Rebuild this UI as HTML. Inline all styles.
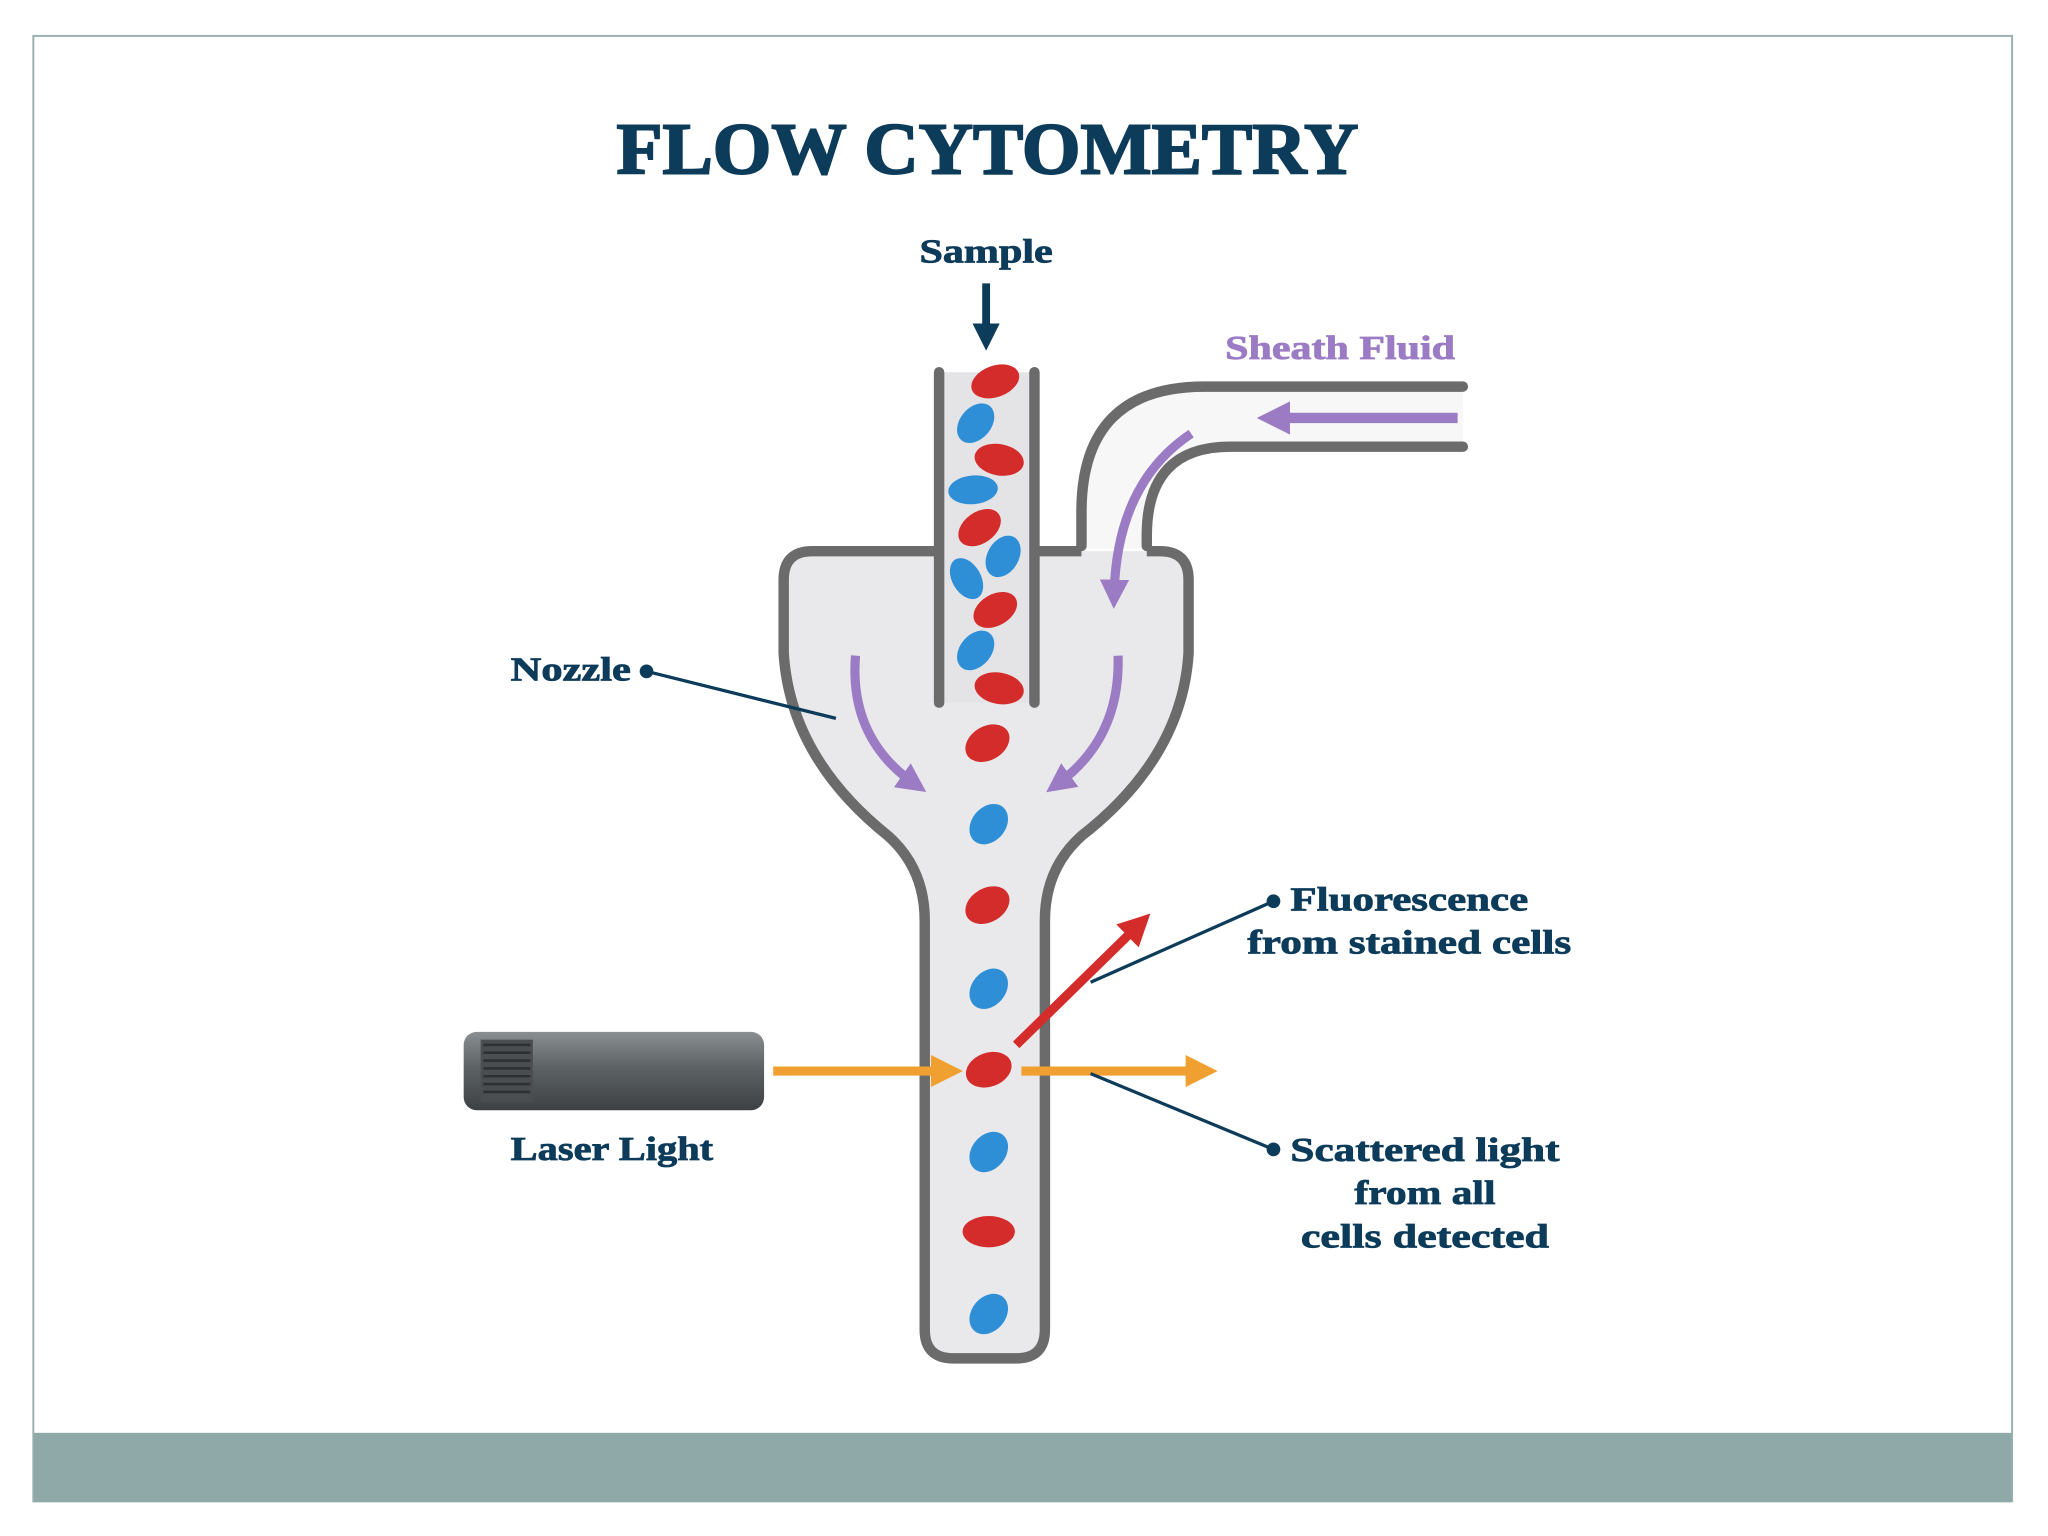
<!DOCTYPE html>
<html><head><meta charset="utf-8"><style>
html,body{margin:0;padding:0;background:#fff;}
svg{display:block;}
text{font-family:"Liberation Serif",serif;font-weight:bold;fill:#0d3b5a;}
</style></head><body>
<svg width="2048" height="1536" viewBox="0 0 1568 1176" xmlns="http://www.w3.org/2000/svg">
<defs>
<linearGradient id="las" x1="0" y1="0" x2="0" y2="1">
<stop offset="0" stop-color="#8a8f92"/><stop offset="0.45" stop-color="#5d6265"/><stop offset="1" stop-color="#3d4143"/>
</linearGradient>
<marker id="pa" viewBox="0 0 10 10" refX="5" refY="5" markerWidth="3.2" markerHeight="3.2" orient="auto"><path d="M0,0 L10,5 L0,10 z" fill="#9b7bc4"/></marker>
<marker id="oa" viewBox="0 0 10 10" refX="5" refY="5" markerWidth="3.5" markerHeight="3.5" orient="auto"><path d="M0,0 L10,5 L0,10 z" fill="#f0a030"/></marker>
<marker id="ra" viewBox="0 0 10 10" refX="5" refY="5" markerWidth="3.5" markerHeight="3.5" orient="auto"><path d="M0,0 L10,5 L0,10 z" fill="#d42b2b"/></marker>
<marker id="da" viewBox="0 0 10 10" refX="5" refY="5" markerWidth="3.5" markerHeight="3.5" orient="auto"><path d="M0,0 L10,5 L0,10 z" fill="#0d3b5a"/></marker>
</defs>
<rect x="0" y="0" width="1568" height="1176" fill="#fff"/>
<rect x="25.5" y="27.5" width="1515" height="1122" fill="#fff" stroke="#9bb0b0" stroke-width="1.5"/>
<rect x="26" y="1097" width="1514" height="53" fill="#8fa9a8"/>

<text x="472" y="133" font-size="56" textLength="568" lengthAdjust="spacingAndGlyphs" stroke="#0d3b5a" stroke-width="1.5">FLOW CYTOMETRY</text>

<path d="M828 420 L828 392 Q828 296 922 296 L1120 296 L1120 342 L942 342 Q878 342 878 410 L878 420 Z" fill="#f7f7f8"/>
<path d="M828 418 L828 392 Q828 296 922 296 L1120 296" fill="none" stroke="#6b6b6b" stroke-width="8" stroke-linecap="round"/>
<path d="M878 418 L878 410 Q878 342 942 342 L1120 342" fill="none" stroke="#6b6b6b" stroke-width="8" stroke-linecap="round"/>

<path d="M720 422 L622 422 Q600 422 600 444 L600 500 Q605 580 680 640 Q708 665 708 705 L708 1018 Q708 1040 730 1040 L778 1040 Q800 1040 800 1018 L800 705 Q800 665 828 640 Q905 580 910 500 L910 444 Q910 422 888 422 L878 422 M828 422 L792 422" fill="#e9e9eb" stroke="#6b6b6b" stroke-width="8" stroke-linejoin="round"/>
<rect x="719" y="285" width="73" height="253" fill="#e4e4e6"/>
<line x1="719" y1="285" x2="719" y2="538" stroke="#6b6b6b" stroke-width="8" stroke-linecap="round"/>
<line x1="792" y1="285" x2="792" y2="538" stroke="#6b6b6b" stroke-width="8" stroke-linecap="round"/>

<g fill="#d42b2b">
<ellipse cx="762" cy="292" rx="19" ry="12" transform="rotate(-20 762 292)"/>
<ellipse cx="765" cy="352" rx="19" ry="12" transform="rotate(10 765 352)"/>
<ellipse cx="750" cy="404" rx="18" ry="12" transform="rotate(-35 750 404)"/>
<ellipse cx="762" cy="467" rx="18" ry="12" transform="rotate(-30 762 467)"/>
<ellipse cx="765" cy="527" rx="19" ry="12" transform="rotate(10 765 527)"/>
<ellipse cx="756" cy="569" rx="18" ry="13" transform="rotate(-30 756 569)"/>
<ellipse cx="756" cy="693" rx="18" ry="13" transform="rotate(-30 756 693)"/>
<ellipse cx="757" cy="819" rx="18" ry="13" transform="rotate(-20 757 819)"/>
<ellipse cx="757" cy="943" rx="20" ry="12"/>
</g>
<g fill="#2f8fd6">
<ellipse cx="747" cy="324" rx="17" ry="12" transform="rotate(-50 747 324)"/>
<ellipse cx="745" cy="375" rx="19" ry="11" transform="rotate(-5 745 375)"/>
<ellipse cx="768" cy="426" rx="17" ry="12" transform="rotate(-60 768 426)"/>
<ellipse cx="740" cy="443" rx="17" ry="11" transform="rotate(60 740 443)"/>
<ellipse cx="747" cy="498" rx="17" ry="12" transform="rotate(-50 747 498)"/>
<ellipse cx="757" cy="631" rx="17" ry="13" transform="rotate(-50 757 631)"/>
<ellipse cx="757" cy="757" rx="17" ry="13" transform="rotate(-50 757 757)"/>
<ellipse cx="757" cy="882" rx="17" ry="13" transform="rotate(-50 757 882)"/>
<ellipse cx="757" cy="1006" rx="17" ry="13" transform="rotate(-50 757 1006)"/>
</g>

<path d="M1116 320 L975 320" stroke="#9b7bc4" stroke-width="8" fill="none" marker-end="url(#pa)"/>
<path d="M912 332 Q855 370 853 455" stroke="#9b7bc4" stroke-width="7" fill="none" marker-end="url(#pa)"/>
<path d="M655 502 Q650 565 700 600" stroke="#9b7bc4" stroke-width="7" fill="none" marker-end="url(#pa)"/>
<path d="M856 502 Q858 565 810 600" stroke="#9b7bc4" stroke-width="7" fill="none" marker-end="url(#pa)"/>

<path d="M755 217 L755 258" stroke="#0d3b5a" stroke-width="6" fill="none" marker-end="url(#da)"/>

<rect x="355" y="790" width="230" height="60" rx="10" fill="url(#las)"/>
<rect x="368" y="796" width="40" height="48" fill="#4a4e50"/>
<g stroke="#2e3133" stroke-width="2"><line x1="370" y1="800" x2="406" y2="800"/><line x1="370" y1="806" x2="406" y2="806"/><line x1="370" y1="812" x2="406" y2="812"/><line x1="370" y1="818" x2="406" y2="818"/><line x1="370" y1="824" x2="406" y2="824"/><line x1="370" y1="830" x2="406" y2="830"/><line x1="370" y1="836" x2="406" y2="836"/></g>
<path d="M592 820 L725 820" stroke="#f0a030" stroke-width="7" fill="none" marker-end="url(#oa)"/>
<path d="M782 820 L920 820" stroke="#f0a030" stroke-width="7" fill="none" marker-end="url(#oa)"/>
<path d="M778 800 L872 708" stroke="#d42b2b" stroke-width="7" fill="none" marker-end="url(#ra)"/>

<g stroke="#0d3b5a" stroke-width="2.5" fill="#0d3b5a">
<line x1="495" y1="514" x2="640" y2="550"/><circle cx="495" cy="514" r="4"/>
<line x1="975" y1="690" x2="835" y2="752"/><circle cx="975" cy="690" r="4"/>
<line x1="975" y1="880" x2="835" y2="822"/><circle cx="975" cy="880" r="4"/>
</g>

<g stroke="#0d3b5a" stroke-width="0.6">
<text x="704" y="201" font-size="26" textLength="102" lengthAdjust="spacingAndGlyphs">Sample</text>
<text x="938" y="275" font-size="26" textLength="176" lengthAdjust="spacingAndGlyphs" style="fill:#9b7bc4;stroke:#9b7bc4">Sheath Fluid</text>
<text x="391" y="521" font-size="26" textLength="92" lengthAdjust="spacingAndGlyphs">Nozzle</text>
<text x="988" y="697" font-size="26" textLength="182" lengthAdjust="spacingAndGlyphs">Fluorescence</text>
<text x="955" y="730" font-size="26" textLength="248" lengthAdjust="spacingAndGlyphs">from stained cells</text>
<text x="391" y="888" font-size="26" textLength="155" lengthAdjust="spacingAndGlyphs">Laser Light</text>
<text x="988" y="889" font-size="26" textLength="206" lengthAdjust="spacingAndGlyphs">Scattered light</text>
<text x="1037" y="922" font-size="26" textLength="108" lengthAdjust="spacingAndGlyphs">from all</text>
<text x="996" y="955" font-size="26" textLength="190" lengthAdjust="spacingAndGlyphs">cells detected</text>
</g>
</svg>
</body></html>
